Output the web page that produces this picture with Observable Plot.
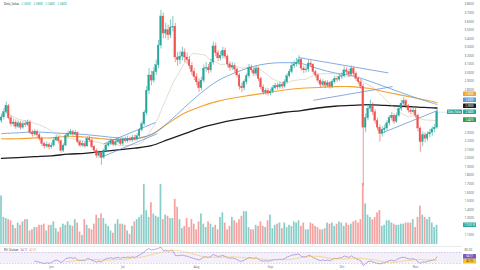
<!DOCTYPE html>
<html><head><meta charset="utf-8">
<script src="https://cdn.jsdelivr.net/npm/d3@7"></script>
<script src="https://cdn.jsdelivr.net/npm/@observablehq/plot@0.6"></script>
<style>
html,body{margin:0;padding:0;background:#fff;}
#wrap{position:relative;width:480px;height:270px;overflow:hidden;font-family:Roboto,"Noto Sans",sans-serif;background:#fff;}
</style></head><body><div id="wrap"></div>
<script>
// ---- data (daily, starting 2025-05-11) ----
const startDay = "2025-05-11";
const firstOpen = 2.44;
const closes = [2.48,2.54,2.61,2.47,2.40,2.42,2.37,2.41,2.36,2.40,
2.39,2.42,2.30,2.28,2.31,2.27,2.23,2.17,2.14,2.16,
2.13,2.15,2.21,2.24,2.20,2.09,2.15,2.26,2.29,2.31,
2.28,2.30,2.19,2.15,2.17,2.14,2.23,2.21,2.13,2.09,
2.03,2.06,2.01,2.09,2.15,2.17,2.20,2.16,2.19,2.21,
2.17,2.22,2.20,2.23,2.21,2.24,2.22,2.26,2.33,2.40,
2.53,2.79,2.97,2.91,3.01,3.09,3.32,3.66,3.46,3.50,
3.44,3.53,3.54,3.18,3.15,3.19,3.24,3.18,3.15,3.08,
3.01,2.95,2.89,2.82,2.91,3.05,3.06,3.03,3.12,3.31,
3.23,3.17,3.20,3.26,3.19,3.10,3.06,3.08,3.04,2.97,
2.84,2.82,2.89,2.96,3.06,3.03,2.99,3.05,2.93,2.83,
2.77,2.79,2.76,2.78,2.82,2.85,2.83,2.86,2.84,2.89,
2.96,3.01,3.08,3.10,3.12,3.15,3.05,3.03,3.04,3.11,
3.09,3.01,2.97,2.91,2.86,2.89,2.85,2.88,2.84,2.89,
2.93,2.92,2.95,2.96,3.03,3.01,2.98,3.05,2.99,2.93,
2.89,2.84,2.36,2.47,2.58,2.62,2.54,2.44,2.36,2.29,
2.33,2.35,2.41,2.47,2.50,2.43,2.50,2.58,2.64,2.67,
2.61,2.56,2.54,2.56,2.50,2.35,2.19,2.27,2.23,2.28,
2.30,2.34,2.36,2.54];
const highs = [2.52,2.58,2.66,2.63,2.50,2.46,2.45,2.44,2.43,2.43,
2.44,2.45,2.44,2.33,2.34,2.33,2.29,2.25,2.19,2.19,
2.18,2.18,2.24,2.27,2.26,2.22,2.17,2.28,2.32,2.34,
2.33,2.33,2.31,2.21,2.20,2.19,2.25,2.26,2.23,2.15,
2.11,2.09,2.08,2.11,2.17,2.20,2.23,2.22,2.22,2.24,
2.23,2.24,2.25,2.26,2.25,2.27,2.27,2.29,2.35,2.43,
2.56,2.84,3.05,3.02,3.06,3.15,3.38,3.73,3.70,3.58,
3.56,3.62,3.66,3.58,3.24,3.25,3.30,3.28,3.23,3.19,
3.12,3.05,2.99,2.93,2.95,3.09,3.12,3.10,3.16,3.36,
3.35,3.26,3.25,3.30,3.29,3.21,3.13,3.12,3.11,3.06,
2.99,2.88,2.92,2.99,3.10,3.09,3.06,3.08,3.07,2.95,
2.86,2.82,2.82,2.81,2.85,2.88,2.88,2.89,2.89,2.92,
2.99,3.04,3.12,3.14,3.17,3.20,3.17,3.08,3.08,3.15,
3.14,3.11,3.03,2.99,2.93,2.92,2.91,2.91,2.90,2.92,
2.96,2.96,2.98,3.00,3.07,3.06,3.04,3.08,3.07,3.01,
2.95,2.92,2.87,2.52,2.63,2.68,2.65,2.57,2.47,2.39,
2.37,2.39,2.44,2.50,2.54,2.52,2.53,2.61,2.68,2.71,
2.69,2.63,2.59,2.60,2.59,2.52,2.37,2.31,2.30,2.31,
2.34,2.37,2.40,2.58];
const lows = [2.41,2.45,2.52,2.45,2.37,2.37,2.34,2.35,2.33,2.34,
2.36,2.37,2.28,2.25,2.26,2.24,2.20,2.14,2.11,2.12,
2.10,2.11,2.13,2.19,2.17,2.06,2.07,2.14,2.24,2.27,
2.26,2.26,2.17,2.13,2.13,2.12,2.13,2.19,2.11,2.06,
2.00,2.00,1.92,1.99,2.07,2.13,2.15,2.14,2.14,2.17,
2.15,2.15,2.18,2.18,2.19,2.19,2.20,2.20,2.24,2.31,
2.38,2.50,2.75,2.85,2.88,2.97,3.05,3.28,3.40,3.40,
3.38,3.40,3.48,3.12,3.08,3.10,3.14,3.12,3.10,3.04,
2.97,2.91,2.85,2.77,2.79,2.88,3.01,2.99,3.00,3.09,
3.19,3.13,3.14,3.16,3.16,3.06,3.02,3.03,3.00,2.94,
2.80,2.77,2.79,2.86,2.93,3.00,2.96,2.96,2.90,2.80,
2.74,2.74,2.73,2.73,2.76,2.80,2.80,2.81,2.81,2.82,
2.87,2.94,2.99,3.05,3.07,3.09,3.02,2.99,3.00,3.01,
3.06,2.98,2.94,2.88,2.83,2.84,2.82,2.83,2.81,2.82,
2.87,2.89,2.90,2.92,2.94,2.98,2.95,2.96,2.96,2.90,
2.86,2.81,1.68,2.30,2.44,2.54,2.50,2.40,2.32,2.19,
2.25,2.29,2.32,2.38,2.44,2.40,2.41,2.48,2.55,2.61,
2.58,2.53,2.51,2.51,2.47,2.31,2.07,2.14,2.18,2.20,
2.24,2.26,2.30,2.34];
// volume, millions
const volumes = [430,240,230,220,210,170,140,190,170,200,
220,220,120,130,150,150,170,170,180,120,
170,170,200,140,110,150,180,170,200,170,
160,220,190,110,80,220,170,140,130,180,
260,230,270,230,180,160,120,100,180,220,
180,180,170,120,90,160,200,220,240,260,
530,300,240,370,270,250,240,530,220,260,
250,230,230,400,330,220,140,160,230,150,
220,180,130,200,270,180,150,200,180,150,
170,130,240,280,190,130,160,240,210,190,
220,250,290,290,150,130,130,170,160,200,
160,150,210,260,140,170,180,190,140,190,
150,170,160,200,190,210,160,190,130,130,
190,180,160,150,130,130,140,190,180,190,
160,180,200,190,160,190,170,180,200,210,
190,220,540,360,260,240,220,240,280,300,
160,170,210,210,190,180,170,170,180,180,
190,190,190,220,150,240,340,260,240,220,
240,190,150,170];
// moving averages (day index -> value)
const maDays = [0,7,14,21,28,35,42,49,56,63,70,77,84,91,98,105,112,119,126,133,140,147,154,161,168,175,182,183];
const ma50  = [2.29,2.30,2.31,2.30,2.29,2.28,2.26,2.24,2.23,2.28,2.42,2.60,2.77,2.91,3.00,3.07,3.11,3.12,3.11,3.05,3.00,2.97,2.91,2.84,2.77,2.70,2.64,2.63];
const ma100 = [2.23,2.23,2.24,2.24,2.26,2.25,2.23,2.22,2.23,2.28,2.41,2.53,2.61,2.67,2.71,2.74,2.77,2.80,2.82,2.83,2.84,2.84,2.82,2.78,2.74,2.70,2.66,2.65];
const ma200 = [2.00,2.01,2.02,2.03,2.05,2.06,2.08,2.10,2.12,2.15,2.22,2.29,2.36,2.41,2.45,2.48,2.51,2.54,2.56,2.59,2.61,2.62,2.63,2.62,2.61,2.60,2.59,2.59];
// drawn trendlines
const trendX1 = ["2025-06-22T22:00Z","2025-06-21T14:00Z","2025-09-12T19:00Z","2025-09-19T02:00Z","2025-10-17T05:00Z"];
const trendY1 = [2.17,2.01,3.18,2.68,2.29];
const trendX2 = ["2025-07-14T17:00Z","2025-07-15T12:00Z","2025-10-20T14:00Z","2025-10-22T07:00Z","2025-11-10T05:00Z"];
const trendY2 = [2.42,2.29,3.00,2.84,2.56];
const priceTicks = d3.range(11, 39).map(d => d / 10);
const monthTicks = ["2025-06-01","2025-07-01","2025-08-01","2025-09-01","2025-10-01","2025-11-01"];
const rsiLevels = [30, 70];
const symbolName = "Dolo_Solus";

// ---- build ----
const DAY = 864e5;
const t0 = Date.parse(startDay + "T00:00Z");
const dateOf = i => new Date(t0 + i * DAY);
const candles = closes.map((c, i) => ({
  date: dateOf(i), open: i ? closes[i - 1] : firstOpen, close: c,
  high: highs[i], low: lows[i], volume: volumes[i]
}));
candles.forEach(d => d.up = d.close >= d.open);
const UP = "#26a69a", DN = "#ef5350";
const xDomain = [dateOf(-0.42), dateOf(193.7)];
const W = 480, MR = 18;
const maRows = (arr) => maDays.map((d, k) => ({date: dateOf(d), v: arr[k]}));
const trends = trendX1.map((x, k) => ({x1: new Date(x), y1: trendY1[k], x2: new Date(trendX2[k]), y2: trendY2[k]}));
const wrap = document.getElementById("wrap");
const abs = (top) => ({background: "transparent", position: "absolute", left: "0px", top: top + "px", overflow: "visible"});
const half = 0.36 * DAY;
const last = candles[candles.length - 1];

// scales shared by the price and volume layers (computed by Plot)
const PRICE_Y = {domain: [0.970, 3.847], range: [246, 0]};
const VOL_Y = {domain: [0, 2160], range: [244, 0]};
const yP = Plot.scale({y: PRICE_Y});
const yV = Plot.scale({y: VOL_Y});

// right-axis tags (positions from the price scale, pushed apart upward)
const ma20last = d3.mean(closes.slice(-20));
const tags = [
  {v: ma20last, bg: "#2e9e4f", fg: "#fff"},
  {v: last.close, bg: UP, fg: "#fff"},
  {v: ma200[ma200.length - 1], bg: "#1e1e1e", fg: "#fff"},
  {v: ma50[ma50.length - 1], bg: "#5c9be0", fg: "#fff"},
  {v: ma100[ma100.length - 1], bg: "#f2a330", fg: "#fff"}
];
let prevY = 1e9;
tags.forEach(t => { let y = yP.apply(t.v); y = Math.min(y, prevY - 6); t.y = y; prevY = y; });
const volTagY = yV.apply(last.volume);
const busy = tags.map(t => t.y).concat([volTagY]);
const shownTicks = priceTicks.filter(v => busy.every(b => Math.abs(yP.apply(v) - b) > 4.2));

// volume layer
const vol = Plot.plot({
  width: W, height: 246, marginLeft: 0, marginRight: MR, marginTop: 0, marginBottom: 2,
  style: abs(0),
  x: {type: "utc", domain: xDomain, axis: null},
  y: {domain: VOL_Y.domain, axis: null},
  color: {type: "identity"},
  marks: [
    Plot.rectY(candles, {x1: d => new Date(+d.date - half), x2: d => new Date(+d.date + half), y: "volume",
      fill: d => d.up ? "rgba(38,166,154,0.55)" : "rgba(239,83,80,0.55)"})
  ]
});
wrap.appendChild(vol);

// price layer
const price = Plot.plot({
  width: W, height: 246, marginLeft: 0, marginRight: MR, marginTop: 0, marginBottom: 0,
  style: abs(0),
  x: {type: "utc", domain: xDomain, axis: null},
  y: {domain: PRICE_Y.domain},
  color: {type: "identity"},
  marks: [
    Plot.axisY({anchor: "right", ticks: shownTicks, tickFormat: d => d.toFixed(4), tickSize: 0, tickPadding: 2, fontSize: 3, color: "#6a6d78"}),
    Plot.lineY(maRows(ma200), {x: "date", y: "v", stroke: "#1e1e1e", strokeWidth: 1.3, curve: "catmull-rom"}),
    Plot.lineY(maRows(ma100), {x: "date", y: "v", stroke: "#f2a330", strokeWidth: 1.1, curve: "catmull-rom"}),
    Plot.lineY(maRows(ma50), {x: "date", y: "v", stroke: "#5c9be0", strokeWidth: 0.8, curve: "catmull-rom"}),
    Plot.lineY(candles, Plot.windowY({k: 20, anchor: "end", reduce: "mean"}, {x: "date", y: "close", stroke: "#cdc4ae", strokeWidth: 0.6})),
    Plot.link(trends, {x1: "x1", y1: "y1", x2: "x2", y2: "y2", stroke: "#5a82d6", strokeWidth: 0.7}),
    Plot.ruleX(candles, {x: "date", y1: "low", y2: "high", stroke: d => d.up ? UP : DN, strokeWidth: 0.6}),
    Plot.rect(candles, {x1: d => new Date(+d.date - half), x2: d => new Date(+d.date + half),
      y1: d => Math.min(d.open, d.close), y2: d => Math.max(d.open, d.close),
      fill: d => d.up ? UP : DN, stroke: d => d.up ? UP : DN, strokeWidth: 0.3}),
    Plot.ruleY([last.close], {x1: () => last.date, x2: () => xDomain[1], stroke: UP, strokeWidth: 0.4, strokeDasharray: "1,1"})
  ]
});
wrap.appendChild(price);

// rsi
function rsiCalc(v, n) {
  const out = v.map(() => null); let g = 0, l = 0;
  for (let i = 1; i <= n; i++) { const d = v[i] - v[i - 1]; if (d > 0) g += d; else l -= d; }
  g /= n; l /= n; out[n] = 100 - 100 / (1 + g / l);
  for (let i = n + 1; i < v.length; i++) { const d = v[i] - v[i - 1];
    g = (g * (n - 1) + Math.max(d, 0)) / n; l = (l * (n - 1) + Math.max(-d, 0)) / n;
    out[i] = 100 - 100 / (1 + g / l); }
  return out;
}
const rsiVals = rsiCalc(closes, 14);
const rsiRows = candles.map((d, i) => ({date: d.date, rsi: rsiVals[i]})).filter(d => d.rsi != null);
rsiRows.forEach((d, i) => { if (i >= 13) d.ma = d3.mean(rsiRows.slice(i - 13, i + 1), r => r.rsi); });
const rsiP = Plot.plot({
  width: W, height: 24, marginLeft: 0, marginRight: MR, marginTop: 0, marginBottom: 6,
  style: abs(246),
  x: {type: "utc", domain: xDomain},
  y: {domain: [26.4, 91.8], axis: null},
  marks: [
    Plot.rect([0], {x1: () => xDomain[0], x2: () => xDomain[1], y1: () => rsiLevels[0], y2: () => rsiLevels[1], fill: "#7e57c2", fillOpacity: 0.09}),
    Plot.ruleY(rsiLevels, {stroke: "#9b8cc9", strokeWidth: 0.4, strokeDasharray: "1.5,1.5"}),
    Plot.ruleY([91.8], {stroke: "#d8dbe3", strokeWidth: 0.6}),
    Plot.lineY(rsiRows, {x: "date", y: "rsi", stroke: "#7e57c2", strokeWidth: 0.5}),
    Plot.lineY(rsiRows.filter(d => d.ma != null), {x: "date", y: "ma", stroke: "#f2c12e", strokeWidth: 0.5}),
    Plot.axisY({anchor: "right", ticks: [80], tickFormat: d => d.toFixed(2), tickSize: 0, tickPadding: 2, fontSize: 3, color: "#6a6d78"}),
    Plot.axisX({ticks: monthTicks.map(s => new Date(s + "T00:00Z")), tickFormat: d3.utcFormat("%b"), tickSize: 0, tickPadding: 1.5, fontSize: 3, color: "#6a6d78"})
  ]
});
wrap.appendChild(rsiP);

// ---- draw the tags ----
function tag(svg, y, text, bg, fg, x, w) {
  const g = d3.select(svg).append("g").attr("font-size", 2.6).attr("font-family", "Roboto, sans-serif");
  g.append("rect").attr("x", x).attr("y", y - 2.3).attr("width", w).attr("height", 4.6).attr("rx", 0.5).attr("fill", bg);
  g.append("text").attr("x", x + w / 2).attr("y", y).attr("dy", "0.35em").attr("text-anchor", "middle").attr("fill", fg).text(text);
}
tags.forEach(t => tag(price, t.y, t.v.toFixed(4), t.bg, t.fg, 463, 13));
tag(price, tags[1].y, symbolName, UP, "#fff", 447, 15);
tag(vol, volTagY, last.volume.toFixed(2) + " M", UP, "#fff", 463, 13);
const ry = rsiP.scale("y");
const lr = rsiRows[rsiRows.length - 1];
tag(rsiP, ry.apply(lr.rsi), lr.rsi.toFixed(2), "#7e57c2", "#fff", 463, 13);
tag(rsiP, Math.max(ry.apply(lr.ma), ry.apply(lr.rsi) + 4.8), lr.ma.toFixed(2), "#f2c12e", "#333", 463, 13);

// legends: separate text pieces laid out left to right
function legend(svg, x, y, size, parts) {
  const s = d3.select(svg);
  parts.forEach(([txt, col]) => {
    const t = s.append("text").attr("x", x).attr("y", y).attr("font-size", size)
      .attr("text-anchor", "start").attr("font-family", "Roboto, sans-serif").attr("fill", col).text(txt);
    x += t.node().getComputedTextLength() + size * 0.9;
  });
}
legend(price, 4, 4.8, 3, [[symbolName, "#444"]].concat([last.open, last.high, last.low, last.close].map(v => [v.toFixed(4), UP])));
legend(rsiP, 4, 4.6, 2.6, [["RSI 14 close", "#444"], [lr.rsi.toFixed(2), "#7e57c2"], [lr.ma.toFixed(2), "#d4a514"]]);
</script></body></html>
